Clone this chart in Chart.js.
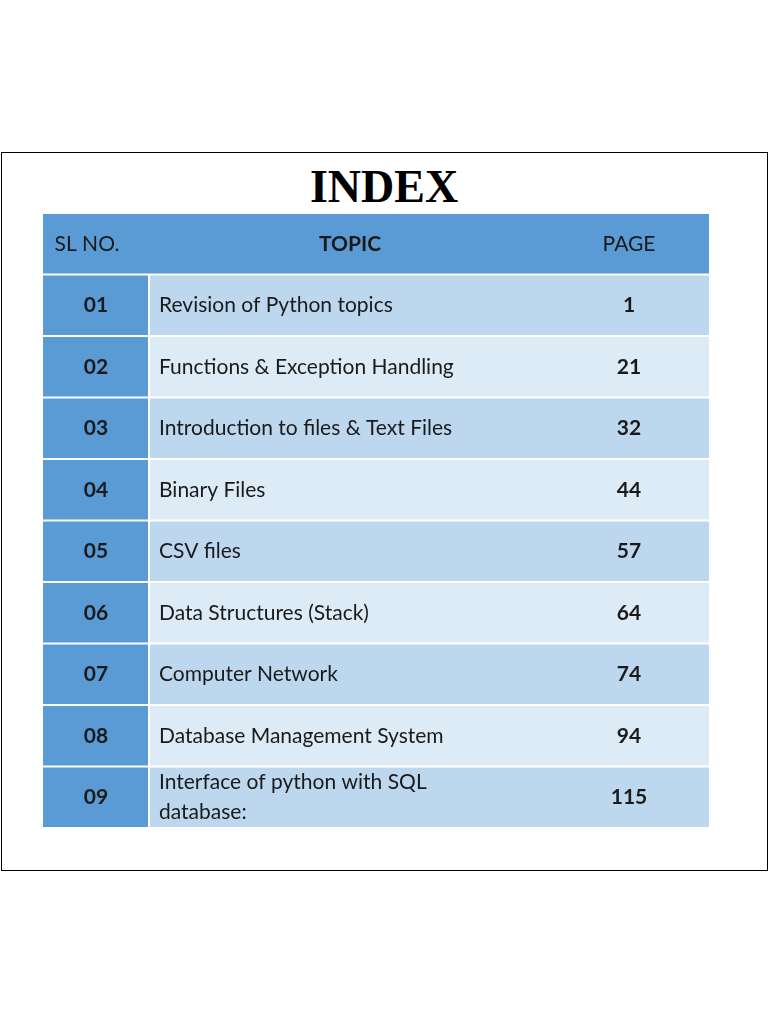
<!DOCTYPE html>
<html><head><meta charset="utf-8">
<script src="https://cdn.jsdelivr.net/npm/chart.js@4"></script>
<style>
html,body{margin:0;padding:0;background:#fff;width:768px;height:1024px;overflow:hidden}
#frame{position:absolute;left:1px;top:152px;width:765px;height:717px;border:1px solid #000}
#title{position:absolute;left:0;top:160px;width:768px;text-align:center;font:bold 46px "Liberation Serif",serif;color:#000}
#wrap{position:absolute;left:43px;top:213px;width:666px;height:615px}
</style></head><body>
<div id="frame"></div>
<div id="title">INDEX</div>
<div id="wrap"><canvas id="c"></canvas></div>
<script>
const headers = ["SL NO.", "TOPIC", "PAGE"];
const slNos = ["01","02","03","04","05","06","07","08","09"];
const topics = ["Revision of Python topics","Functions & Exception Handling","Introduction to files & Text Files","Binary Files","CSV files","Data Structures (Stack)","Computer Network","Database Management System","Interface of python with SQL\ndatabase:"];
const pages = ["1","21","32","44","57","64","74","94","115"];

const rows = ["h"].concat(slNos);
const colEdges = [0,106,666];
const dark = "#5b9bd5", light1 = "#bdd7ee", light2 = "#ddebf7";

const headerData = rows.map((r,i)=> i===0 ? [0,666] : null);
const col1Data = rows.map((r,i)=> i===0 ? null : [0,105]);
const col2Data = rows.map((r,i)=> i===0 ? null : [107,666]);
const col2Colors = rows.map((r,i)=> i%2===1 ? light1 : light2);

const textPlugin = {
  id:'txt',
  afterDatasetsDraw(chart){
    const ctx = chart.ctx, x = chart.scales.x, y = chart.scales.y;
    ctx.save();
    ctx.fillStyle = "#1a1a1a";
    ctx.textBaseline = "middle";
    const fam = 'Lato, "Open Sans", sans-serif';
    const hy = y.getPixelForValue(0);
    ctx.textAlign = "center";
    ctx.font = "21px " + fam; ctx.fillText(headers[0], x.getPixelForValue(44), hy);
    ctx.font = "bold 21px " + fam; ctx.fillText(headers[1], x.getPixelForValue(307), hy);
    ctx.font = "21px " + fam; ctx.fillText(headers[2], x.getPixelForValue(586), hy);
    slNos.forEach((s,i)=>{
      const py = y.getPixelForValue(i+1);
      ctx.textAlign = "center";
      ctx.font = "bold 21px " + fam; ctx.fillText(s, x.getPixelForValue(53), py);
      ctx.fillText(pages[i], x.getPixelForValue(586), py);
      ctx.textAlign = "left";
      ctx.font = "21px " + fam;
      const lines = topics[i].split("\n");
      lines.forEach((l,k)=>{
        ctx.fillText(l, x.getPixelForValue(116), py + (k - (lines.length-1)/2)*30);
      });
    });
    ctx.restore();
  }
};

new Chart(document.getElementById('c'), {
  type:'bar',
  data:{ labels: rows, datasets:[
    {data: headerData, backgroundColor: dark},
    {data: col1Data, backgroundColor: dark},
    {data: col2Data, backgroundColor: col2Colors}
  ]},
  options:{
    indexAxis:'y', responsive:true, maintainAspectRatio:false, animation:false,
    layout:{padding:0},
    datasets:{bar:{grouped:false, categoryPercentage:1, barPercentage:0.97, borderWidth:0, borderSkipped:false}},
    plugins:{legend:{display:false}, tooltip:{enabled:false}},
    scales:{
      x:{type:'linear', min:0, max:666, display:false},
      y:{type:'category', display:false, offset:true}
    }
  },
  plugins:[textPlugin]
});
</script>
</body></html>
